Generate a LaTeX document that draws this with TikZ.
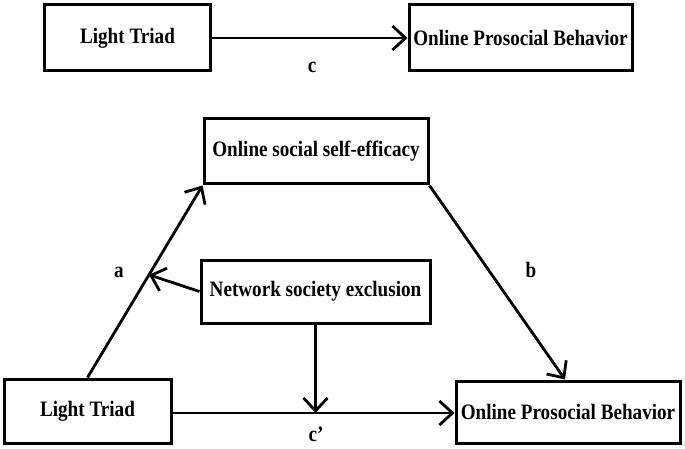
\documentclass[tikz,border=0pt]{standalone}
\usepackage{fontspec}
\setmainfont{Liberation Serif}
\usetikzlibrary{arrows.meta,calc}
\newcommand{\bxt}[1]{\scalebox{0.87}[1]{#1}}
\begin{document}
\begin{tikzpicture}[x=1pt,y=-1pt,
  box/.style={draw,line width=3pt,rectangle,inner sep=0pt,font=\fontsize{22}{26}\selectfont\bfseries},
  lbl/.style={inner sep=0pt,font=\fontsize{22}{26}\selectfont\bfseries},
  conn/.style={line width=2.8pt,-{Straight Barb[length=13pt,width=24pt]}},
  plain/.style={line width=2.8pt}]
\useasboundingbox (0,0) rectangle (685,449);
% top model
\node[box,minimum width=166pt,minimum height=66pt] (lt1) at (127.5,38) {\bxt{Light Triad}};
\node[box,minimum width=223pt,minimum height=66pt] (opb1) at (520.5,38) {\bxt{Online Prosocial Behavior}};
\draw[conn] (lt1.east) -- (opb1.west);
\node[lbl] (c) at (312,67) {\bxt{c}};
% bottom model
\node[box,minimum width=224pt,minimum height=65pt] (osse) at (316,151.5) {\bxt{Online social self-efficacy}};
\node[box,minimum width=229pt,minimum height=63pt] (nse) at (315.5,291.5) {\bxt{Network society exclusion}};
\node[box,minimum width=167pt,minimum height=64pt] (lt2) at (87.5,411) {\bxt{Light Triad}};
\node[box,minimum width=224pt,minimum height=62pt] (opb2) at (568,412) {\bxt{Online Prosocial Behavior}};
\draw[conn] (lt2.north) -- (osse.south west);
\coordinate (ma) at ($(lt2.north)!0.535!(osse.south west)$);
\draw[conn] (nse.west) -- (ma);
\draw[conn] (osse.south east) -- ($(opb2.north)+(-3,0)$);
\draw[conn] ($(lt2.east)+(0,2)$) -- ($(opb2.west)+(0,1)$);
\draw[conn] (nse.south) -- (nse.south |- {$(lt2.east)+(0,2)$});
\node[lbl] (a) at (119,272) {\bxt{a}};
\node[lbl] (b) at (531,270) {\bxt{b}};
\node[lbl] (cp) at (316,434) {\bxt{c’}};
\end{tikzpicture}
\end{document}
